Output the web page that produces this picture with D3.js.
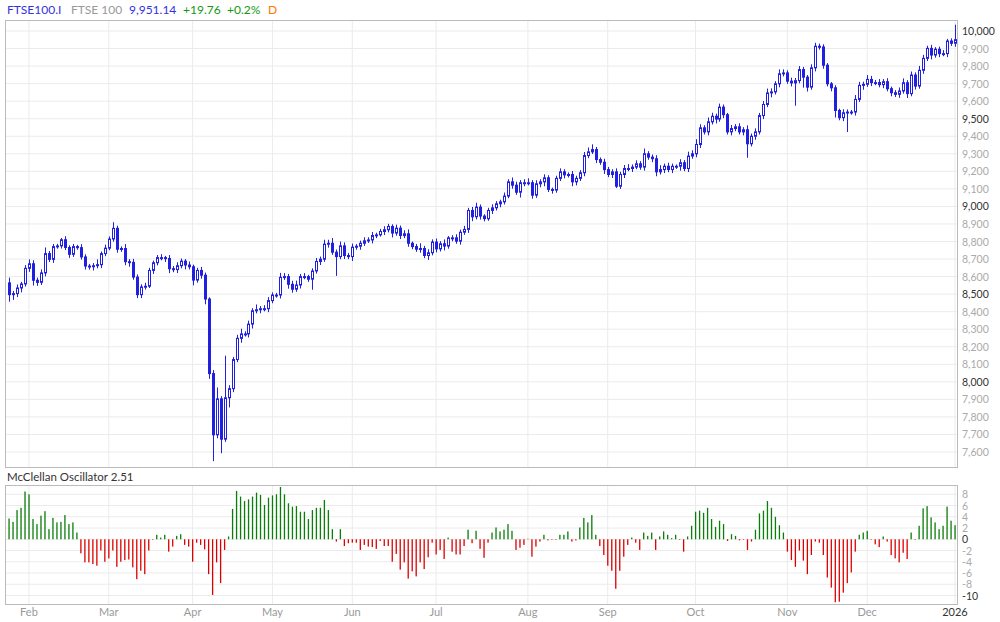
<!DOCTYPE html>
<html><head><meta charset="utf-8">
<script src="https://cdn.jsdelivr.net/npm/d3@7"></script>
<style>body{margin:0;background:#fff}svg{font-family:Lato,"Open Sans",sans-serif}</style>
</head><body><svg id="c" width="1000" height="622"></svg>
<script>
const closes = [
8497,8503,8535,8558,8647,8673,8579,8567,8621,8731,8698,8771,8775,8810,8766,8727,8771,8765,8712,8660,8660,8662,8668,8731,8762,8814,8875,8756,8760,8685,8681,8597,8497,
8541,8545,8635,8679,8708,8708,8703,8645,8640,8662,8688,8666,8656,8580,8635,8608,8472,8047,7698,7903,7673,7909,7961,8127,8248,8273,8273,8329,8405,8411,8417,8417,8463,8495,
8495,8596,8600,8556,8528,8552,8600,8600,8585,8632,8686,8699,8785,8790,8739,8714,8775,8720,8714,8768,8773,8790,8804,8809,8834,8838,8857,8867,8886,8848,8876,8834,8844,8790,8771,8756,
8760,8720,8736,8797,8758,8787,8774,8821,8821,8802,8853,8869,8977,8941,8996,8945,8930,8977,8992,9015,9026,9059,9140,9121,9081,9135,9135,9135,9064,9129,9140,9163,9097,9093,9160,
9197,9180,9182,9140,9160,9192,9290,9311,9324,9267,9252,9210,9182,9197,9115,9182,9216,9216,9224,9243,9224,9300,9281,9272,9197,9210,9229,9210,9229,9229,9249,9216,9287,9300,9353,
9448,9425,9482,9514,9498,9566,9523,9425,9444,9454,9425,9437,9357,9400,9425,9518,9581,9647,9653,9699,9756,9761,9714,9704,9717,9780,9737,9680,9790,9913,9909,9805,9699,9676,9547,
9506,9534,9538,9538,9610,9690,9696,9724,9706,9706,9694,9711,9671,9648,9639,9658,9705,9643,9749,9686,9776,9844,9901,9863,9896,9871,9871,9943,9930,9951];
const firstOpen = 8564;
const wickHi = [
30,15,20,12,18,25,20,15,20,35,15,15,12,10,20,12,15,10,20,15,12,15,30,12,20,15,35,15,12,25,15,20,15,
15,20,15,12,15,20,10,20,15,20,15,12,20,12,15,20,15,10,20,65,15,240,20,15,20,30,15,20,15,30,15,20,20,15,
12,25,20,15,20,25,15,20,10,15,20,15,25,20,30,15,25,20,15,20,12,15,20,15,20,12,15,20,15,12,20,15,20,25,10,15,
30,15,20,15,20,15,25,10,15,20,15,20,15,20,25,15,10,15,20,15,12,20,15,25,20,15,20,25,15,20,15,20,15,10,15,
20,15,12,20,15,15,20,25,30,15,12,20,15,15,20,15,20,25,15,20,15,30,15,15,20,25,15,20,15,10,20,15,25,20,30,
20,15,25,20,15,20,15,10,20,15,20,15,25,15,20,15,20,25,20,15,25,20,15,20,15,20,15,12,20,20,15,15,12,10,15,
10,20,15,12,25,20,15,25,20,15,20,15,20,12,15,20,25,15,20,15,25,20,15,20,12,15,20,12,15,85];
const wickLo = [
40,30,20,25,15,20,30,20,15,20,15,20,12,15,15,20,15,12,15,20,20,25,15,20,15,12,15,20,15,20,25,15,20,
20,15,10,20,15,15,20,25,15,20,15,25,15,30,15,20,30,30,150,20,80,15,55,20,15,25,15,20,25,15,20,15,20,15,
15,20,15,25,20,15,20,15,15,60,15,20,15,20,15,110,15,20,15,25,15,20,15,12,20,15,10,20,15,25,15,20,15,20,15,15,
20,15,25,15,20,15,25,15,20,15,20,15,20,25,15,20,15,12,20,15,20,15,12,20,15,30,20,15,20,15,20,25,15,20,15,
15,20,15,25,20,15,20,15,12,20,15,25,15,20,10,15,20,15,20,12,15,20,15,20,25,15,20,15,20,15,25,15,20,15,20,
20,15,20,15,25,15,20,15,20,15,15,20,80,15,20,15,20,15,25,15,20,15,15,20,130,15,60,25,15,20,15,20,15,20,40,
15,20,110,15,20,15,25,15,20,15,15,20,15,20,15,20,15,25,15,20,15,20,15,25,15,20,15,20,15,20];
const oscillator = [
3.7,3.1,5.2,5.6,8.5,8.0,3.6,2.7,4.2,5.0,1.8,3.8,3.0,3.1,4.3,2.7,3.0,1.2,-2.5,-4.1,-4.1,-4.4,-4.7,-2.0,-4.0,-3.4,-2.0,-4.9,-4.0,-3.7,-3.6,-5.0,-7.1,-5.6,-6.2,-2.0,-0.1,0.8,0.3,0.8,-2.2,-1.3,0.6,0.9,-1.0,-1.3,-4.0,-0.6,-1.0,-1.8,-6.2,-9.9,-4.1,-7.8,-1.9,0.5,5.4,8.6,7.6,6.8,7.1,7.6,8.3,7.9,6.1,7.4,7.8,8.0,9.3,8.0,6.4,5.8,5.9,4.9,4.9,3.6,5.2,5.6,5.6,7.0,5.2,1.8,-0.4,1.8,-1.2,-0.7,-0.6,-0.6,-1.9,-1.0,-1.3,-1.4,-1.7,-0.3,-1.2,-1.2,-4.0,-2.6,-5.4,-4.1,-7.0,-5.7,-6.6,-4.1,-5.3,-3.2,-0.6,-2.7,-1.9,-3.5,0.3,-2.2,-2.7,-2.7,-1.2,1.7,-0.7,1.5,-1.7,-3.3,-0.6,1.2,2.1,
1.4,1.7,2.7,1.5,-1.9,-1.5,-1.0,0.1,-3.1,-1.3,-0.4,0.8,-0.2,-0.1,-0.1,0.8,0.8,1.4,-0.4,-0.2,2.1,3.8,3.0,4.3,0.8,-1.2,-2.8,-4.7,-5.6,-8.8,-5.6,-3.1,-1.0,0.3,-0.6,-1.9,1.2,0.6,1.2,-1.9,0.5,1.4,0.8,0.2,0.8,-0.1,-2.2,0.5,2.4,4.9,5.1,4.7,5.6,3.6,2.2,3.3,2.7,-0.3,0.9,0.6,-0.2,-0.1,-1.9,-0.4,1.7,4.6,5.1,6.8,5.6,4.0,2.5,1.2,-2.2,-3.7,-4.9,-2.0,-3.8,-6.2,-2.8,-0.4,-0.6,-2.8,-6.8,-8.6,-11.2,-11.1,-9.5,-7.8,-5.9,-2.2,0.8,1.2,1.5,-0.1,-0.9,-1.4,0.5,-0.4,-2.8,-3.4,-4.1,-2.4,-3.5,1.2,-0.1,2.4,5.5,5.9,3.9,3.0,1.8,2.4,5.8,3.3,2.5];
const monthLabels = ["Feb","Mar","Apr","May","Jun","Jul","Aug","Sep","Oct","Nov","Dec","2026"];
const monthIdx = [5,25,46,66,86,107,130,150,172,195,215,237];
const priceTicks = d3.range(7600,10001,100);
const oscTicks = [8,6,4,2,0,-2,-4,-6,-8,-10];

const svg = d3.select("#c");
const L=5,R=957,T=20,B=467,OT=485,OB=604;
const n = closes.length;
const x = d3.scaleLinear().domain([0,n-1]).range([9,955]);
const y = d3.scaleLinear().domain([7600,10000]).range([452,31]);
const yo = d3.scaleLinear().domain([-10,8]).range([595.5,494.3]);
const grid="#ebebeb", blue="#2020e0";

const hdr=[["FTSE100.I",7,"#3333dd"],["FTSE 100",71,"#999"],["9,951.14",129,"#3333dd"],["+19.76",183,"#119911"],["+0.2%",227,"#119911"],["D",268,"#ff7700"]];
svg.selectAll("text.h").data(hdr).join("text").attr("x",d=>d[1]).attr("y",14).attr("font-size",12).attr("fill",d=>d[2]).text(d=>d[0]);

svg.append("g").selectAll("line").data(priceTicks).join("line").attr("x1",L).attr("x2",R).attr("y1",d=>y(d)).attr("y2",d=>y(d)).attr("stroke",grid);
svg.append("g").selectAll("line").data(monthIdx).join("line").attr("x1",d=>x(d)).attr("x2",d=>x(d)).attr("y1",T).attr("y2",B).attr("stroke",grid);
svg.append("g").selectAll("line").data(oscTicks).join("line").attr("x1",L).attr("x2",R).attr("y1",d=>yo(d)).attr("y2",d=>yo(d)).attr("stroke",grid);
svg.append("g").selectAll("line").data(monthIdx).join("line").attr("x1",d=>x(d)).attr("x2",d=>x(d)).attr("y1",OT).attr("y2",OB).attr("stroke",grid);

svg.append("rect").attr("x",L+0.5).attr("y",T+0.5).attr("width",R-L).attr("height",B-T).attr("fill","none").attr("stroke","#bbb");
svg.append("rect").attr("x",L+0.5).attr("y",OT+0.5).attr("width",R-L).attr("height",OB-OT).attr("fill","none").attr("stroke","#bbb");

svg.append("g").selectAll("text").data(priceTicks).join("text").attr("x",962).attr("y",d=>y(d)+4).attr("font-size",10.5)
 .attr("fill",d=>d%500===0?"#333":"#aaa").text(d=>d3.format(",")(d));
svg.append("g").selectAll("text").data(oscTicks).join("text").attr("x",962).attr("y",d=>yo(d)+4).attr("font-size",10.5)
 .attr("fill",d=>(d===0||d===-10)?"#333":"#aaa").text(d=>d);

const cd = closes.map((c,i)=>{const o=i===0?firstOpen:closes[i-1];return {i,o,c,h:Math.max(o,c)+(wickHi[i]||0),l:Math.min(o,c)-(wickLo[i]||0)};});
const g = svg.append("g");
g.selectAll("line").data(cd).join("line").attr("x1",d=>Math.round(x(d.i))+0.5).attr("x2",d=>Math.round(x(d.i))+0.5)
 .attr("y1",d=>y(d.h)).attr("y2",d=>y(d.l)).attr("stroke",blue).attr("stroke-width",1);
g.selectAll("rect").data(cd).join("rect")
 .attr("x",d=>Math.round(x(d.i))-0.5).attr("width",2)
 .attr("y",d=>y(Math.max(d.o,d.c))).attr("height",d=>Math.max(1,Math.abs(y(d.o)-y(d.c))))
 .attr("fill",d=>d.c<d.o?blue:"#fff").attr("stroke",blue).attr("stroke-width",1);

svg.append("text").attr("x",7).attr("y",481).attr("font-size",11.5).attr("fill","#333").text("McClellan Oscillator 2.51");
svg.append("g").selectAll("rect").data(oscillator).join("rect")
 .attr("x",(d,i)=>x(i)-0.6).attr("width",1.3)
 .attr("y",d=>yo(Math.max(0,d))).attr("height",d=>Math.abs(yo(d)-yo(0)))
 .attr("fill",d=>d>=0?"#0a7d0a":"#dd0000");

svg.append("g").selectAll("text").data(monthLabels).join("text").attr("x",(d,i)=>x(monthIdx[i])).attr("y",616).attr("text-anchor","middle")
 .attr("font-size",11).attr("fill",d=>d==="2026"?"#333":"#999").text(d=>d);
</script></body></html>
